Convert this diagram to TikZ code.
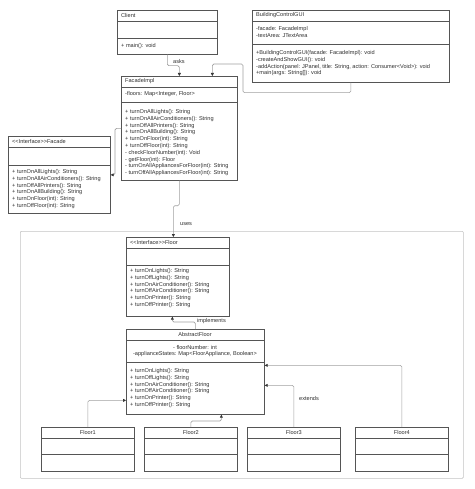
\documentclass[tikz,border=0pt]{standalone}
\usepackage{fontspec}
\setmainfont{Liberation Sans}
\usetikzlibrary{arrows.meta}
\definecolor{boxc}{HTML}{555555}
\definecolor{linec}{HTML}{A0A0A0}
\definecolor{tipc}{HTML}{333333}
\definecolor{txtc}{HTML}{303030}
\definecolor{contc}{HTML}{C4C4C4}
\begin{document}
\begin{tikzpicture}[x=1pt,y=-1pt,
  box/.style={draw=boxc,line width=0.7pt,inner sep=0pt,anchor=north west,rectangle},
  div/.style={draw=boxc,line width=0.7pt},
  txt/.style={inner sep=0pt,text=txtc,font=\fontsize{5.6}{6.8}\selectfont,align=left},
  ctxt/.style={inner sep=0pt,text=txtc,font=\fontsize{5.6}{6.6}\selectfont,align=center},
  conn/.style={draw=linec,line width=0.6pt,rounded corners=1.5pt,-{Triangle[length=3pt,width=3pt,fill=tipc,color=tipc]}},
  lbl/.style={inner sep=0pt,text=txtc,font=\fontsize{5.6}{6.8}\selectfont,anchor=west}]
\useasboundingbox (0,0) rectangle (474,489);
\fill[white] (0,0) rectangle (474,489);

% container
\node[draw=contc,line width=0.6pt,inner sep=0pt,anchor=north west,minimum width=443pt,minimum height=247pt,rounded corners=1pt] (cont) at (20,231) {};

% Client
\node[box,minimum width=100pt,minimum height=44pt] (client) at (117,10) {};
\draw[div] ([yshift=-11pt]client.north west) -- ([yshift=-11pt]client.north east);
\draw[div] ([yshift=-28pt]client.north west) -- ([yshift=-28pt]client.north east);
\node[txt,anchor=west] (clientT) at (121,15.5) {Client};
\node[txt,anchor=west] (clientM) at (121,46) {+ main(): void};

% BuildingControlGUI
\node[box,minimum width=197pt,minimum height=72pt] (gui) at (252,10) {};
\draw[div] ([yshift=-11pt]gui.north west) -- ([yshift=-11pt]gui.north east);
\draw[div] ([yshift=-34pt]gui.north west) -- ([yshift=-34pt]gui.north east);
\node[txt,anchor=west] (guiT) at (256,15.5) {BuildingControlGUI};
\node[txt,anchor=north west] (guiF) at (256,26.3) {-facade: FacadeImpl\\-textArea: JTextArea};
\node[txt,anchor=north west] (guiM) at (256,50.3) {+BuildingControlGUI(facade: FacadeImpl): void\\-createAndShowGUI(): void\\-addAction(panel: JPanel, title: String, action: Consumer<Void>): void\\+main(args: String[]): void};

% FacadeImpl
\node[box,minimum width=116pt,minimum height=104pt] (impl) at (121,76) {};
\draw[div] ([yshift=-11pt]impl.north west) -- ([yshift=-11pt]impl.north east);
\draw[div] ([yshift=-26pt]impl.north west) -- ([yshift=-26pt]impl.north east);
\node[txt,anchor=west] (implT) at (125,81.5) {FacadeImpl};
\node[txt,anchor=west] (implF) at (125,94) {-floors: Map<Integer, Floor>};
\node[txt,anchor=north west] (implM) at (125,109.3) {+ turnOnAllLights(): String\\+ turnOnAllAirConditioners(): String\\+ turnOffAllPrinters(): String\\+ turnOnAllBuilding(): String\\+ turnOnFloor(int): String\\+ turnOffFloor(int): String\\- checkFloorNumber(int): Void\\- getFloor(int): Floor\\- turnOnAllAppliancesForFloor(int): String\\- turnOffAllAppliancesForFloor(int): String};

% Facade interface
\node[box,minimum width=102pt,minimum height=77pt] (facade) at (8,136) {};
\draw[div] ([yshift=-11pt]facade.north west) -- ([yshift=-11pt]facade.north east);
\draw[div] ([yshift=-29pt]facade.north west) -- ([yshift=-29pt]facade.north east);
\node[txt,anchor=west] (facadeT) at (12,141.5) {<{}<Interface>{}>Facade};
\node[txt,anchor=north west] (facadeM) at (12,169.3) {+ turnOnAllLights(): String\\+ turnOnAllAirConditioners(): String\\+ turnOffAllPrinters(): String\\+ turnOnAllBuilding(): String\\+ turnOnFloor(int): String\\+ turnOffFloor(int): String};

% Floor interface
\node[box,minimum width=103pt,minimum height=79pt] (floor) at (126,237) {};
\draw[div] ([yshift=-11pt]floor.north west) -- ([yshift=-11pt]floor.north east);
\draw[div] ([yshift=-28pt]floor.north west) -- ([yshift=-28pt]floor.north east);
\node[txt,anchor=west] (floorT) at (130,242.5) {<{}<Interface>{}>Floor};
\node[txt,anchor=north west] (floorM) at (130,268.3) {+ turnOnLights(): String\\+ turnOffLights(): String\\+ turnOnAirConditioner(): String\\+ turnOffAirConditioner(): String\\+ turnOnPrinter(): String\\+ turnOffPrinter(): String};

% AbstractFloor
\node[box,minimum width=138pt,minimum height=85pt] (abs) at (126,329) {};
\draw[div] ([yshift=-11pt]abs.north west) -- ([yshift=-11pt]abs.north east);
\draw[div] ([yshift=-33pt]abs.north west) -- ([yshift=-33pt]abs.north east);
\node[ctxt] (absT) at (195,334.5) {AbstractFloor};
\node[ctxt] (absF) at (195,351) {- floorNumber: int\\-applianceStates: Map<FloorAppliance, Boolean>};
\node[txt,anchor=north west] (absM) at (130,368.3) {+ turnOnLights(): String\\+ turnOffLights(): String\\+ turnOnAirConditioner(): String\\+ turnOffAirConditioner(): String\\+ turnOnPrinter(): String\\+ turnOffPrinter(): String};

% Floors
\foreach \n/\x in {1/41,2/144,3/247,4/355}{
  \node[box,minimum width=93pt,minimum height=44pt] (floor\n) at (\x,427) {};
  \draw[div] ([yshift=-11pt]floor\n.north west) -- ([yshift=-11pt]floor\n.north east);
  \draw[div] ([yshift=-27pt]floor\n.north west) -- ([yshift=-27pt]floor\n.north east);
  \node[ctxt] (floor\n T) at ([yshift=-5.5pt]floor\n.north) {Floor\n};
}

% connectors
\draw[conn] (client.south) -- ++(0,11) -| (impl.north);
\node[lbl] (asksL) at (173,62) {asks};
\coordinate (guiBend) at (243,64);
\draw[conn] (gui.south) -- ++(0,10) -| (guiBend) -| ([xshift=33pt]impl.north);
\draw[conn] (impl.west) -- ++(-6,0) |- (facade.east);
\draw[conn] (impl.south) -- ++(0,25) -| ([xshift=-4.5pt]floor.north);
\node[lbl] (usesL) at (180,224) {uses};
\draw[conn] (abs.north) -- ++(0,-7) -| ([xshift=-5.5pt]floor.south);
\node[lbl] (implL) at (197,321) {implements};
\draw[conn] (floor1.north) |- ([yshift=-28.5pt]abs.west);
\draw[conn] (floor2.north) -- ++(0,-6) -| ([xshift=26pt]abs.south);
\draw[conn] (floor3.north) |- ([yshift=-13.5pt]abs.east);
\draw[conn] (floor4.north) |- ([yshift=6.5pt]abs.east);
\node[lbl] (extL) at (299,398) {extends};
\end{tikzpicture}
\end{document}
